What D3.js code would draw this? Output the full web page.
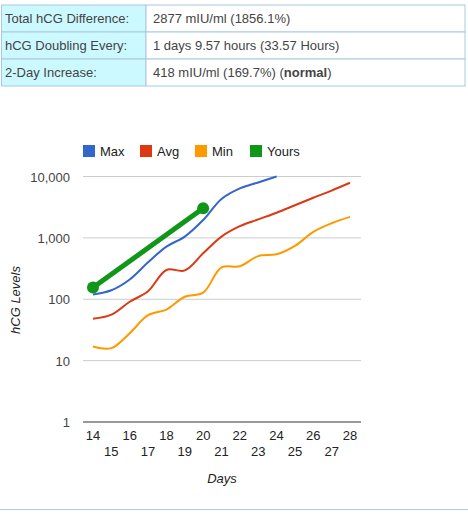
<!DOCTYPE html>
<html>
<head>
<meta charset="utf-8">
<script src="https://cdn.jsdelivr.net/npm/d3@7"></script>
<style>
  body { margin: 0; background: #fff; font-family: "Liberation Sans", Arial, sans-serif; }
</style>
</head>
<body>
<div id="chart"></div>
<script>
// summary table rows
const tableLabels = ["Total hCG Difference:", "hCG Doubling Every:", "2-Day Increase:"];
const tableValues = ["2877 mIU/ml (1856.1%)", "1 days 9.57 hours (33.57 Hours)", "418 mIU/ml (169.7%) "];

// chart data, days 14..28
const days = [14, 15, 16, 17, 18, 19, 20, 21, 22, 23, 24, 25, 26, 27, 28];
const maxValues = [120, 140, 210, 400, 720, 1050, 1950, 4300, 6400, 8000, 10000];
const avgValues = [48, 56, 91, 135, 300, 295, 560, 1050, 1550, 2000, 2570, 3400, 4500, 5900, 7900];
const minValues = [17, 16, 28, 55, 68, 110, 128, 330, 345, 505, 540, 740, 1250, 1730, 2200];
const yoursDays = [14, 20];
const yoursValues = [155, 3032];
const yTicks = [1, 10, 100, 1000, 10000];

const seriesNames = ["Max", "Avg", "Min", "Yours"];
const seriesColors = ["#3366cc", "#dc3912", "#ff9900", "#109618"];

const W = 468, H = 514;
const svg = d3.select("#chart").append("svg")
    .attr("width", W).attr("height", H)
    .style("font-family", '"Liberation Sans", Arial, sans-serif');

// --- table
const rowH = 27, tableTop = 5, tableLeft = 1.5, tableRight = 465, colSplit = 146;
const table = svg.append("g");
tableLabels.forEach((lab, i) => {
    const y = tableTop + i * rowH;
    table.append("rect")
        .attr("x", tableLeft).attr("y", y)
        .attr("width", colSplit - tableLeft).attr("height", rowH)
        .attr("fill", "#ccf9ff").attr("stroke", "#a9c9e0");
    table.append("rect")
        .attr("x", colSplit).attr("y", y)
        .attr("width", tableRight - colSplit).attr("height", rowH)
        .attr("fill", "#fff").attr("stroke", "#a9c9e0");
    table.append("text")
        .attr("x", 5).attr("y", y + 18)
        .attr("font-size", 13).attr("fill", "#444").text(lab);
    const t = table.append("text")
        .attr("x", 153).attr("y", y + 18)
        .attr("font-size", 13).attr("fill", "#444").text(tableValues[i]);
    if (i === 2) {
        t.append("tspan").text("(");
        t.append("tspan").attr("font-weight", "bold").text("normal");
        t.append("tspan").text(")");
    }
});

// --- chart
const plot = {left: 83, right: 361, top: 176.5, bottom: 422};

const x = d3.scaleLinear().domain([14, 28]).range([93, 350]);
const y = d3.scaleLog().domain([1, 10000]).range([plot.bottom, plot.top]);

// gridlines
svg.append("g").selectAll("line")
    .data(yTicks.slice(1))
    .enter().append("line")
        .attr("x1", plot.left).attr("x2", plot.right)
        .attr("y1", d => y(d)).attr("y2", d => y(d))
        .attr("stroke", "#cccccc");

// baseline
svg.append("line")
    .attr("x1", plot.left).attr("x2", plot.right)
    .attr("y1", y(1)).attr("y2", y(1))
    .attr("stroke", "#333").attr("stroke-width", 1);

// y tick labels
svg.append("g").selectAll("text")
    .data(yTicks)
    .enter().append("text")
        .attr("x", 70).attr("y", d => y(d) + 5)
        .attr("text-anchor", "end").attr("font-size", 13).attr("fill", "#444")
        .text(d => d3.format(",")(d));

// x tick labels, two staggered rows
svg.append("g").selectAll("text")
    .data(days)
    .enter().append("text")
        .attr("x", d => x(d))
        .attr("y", (d, i) => i % 2 === 0 ? 440 : 456)
        .attr("text-anchor", "middle").attr("font-size", 13).attr("fill", "#222")
        .text(d => d);

// axis titles
svg.append("text")
    .attr("x", 222).attr("y", 483)
    .attr("text-anchor", "middle").attr("font-size", 13)
    .attr("font-style", "italic").attr("fill", "#222").text("Days");

svg.append("text")
    .attr("transform", `translate(20,300) rotate(-90)`)
    .attr("text-anchor", "middle").attr("font-size", 13)
    .attr("font-style", "italic").attr("fill", "#222").text("hCG Levels");

// lines
const line = d3.line()
    .x(d => x(d[0])).y(d => y(d[1]))
    .curve(d3.curveCatmullRom.alpha(0.5));

const curves = [maxValues, avgValues, minValues];
curves.forEach((vals, i) => {
    svg.append("path")
        .datum(vals.map((v, j) => [days[j], v]))
        .attr("d", line)
        .attr("fill", "none")
        .attr("stroke", seriesColors[i])
        .attr("stroke-width", 2);
});

const yoursData = yoursDays.map((d, j) => [d, yoursValues[j]]);
svg.append("path")
    .datum(yoursData)
    .attr("d", d3.line().x(d => x(d[0])).y(d => y(d[1])))
    .attr("fill", "none")
    .attr("stroke", seriesColors[3])
    .attr("stroke-width", 5);

svg.append("g").selectAll("circle")
    .data(yoursData)
    .enter().append("circle")
        .attr("cx", d => x(d[0])).attr("cy", d => y(d[1]))
        .attr("r", 6).attr("fill", seriesColors[3]);

// legend
const legendX = [83, 140, 195, 250];
const legend = svg.append("g");
legend.selectAll("rect")
    .data(seriesNames)
    .enter().append("rect")
        .attr("x", (d, i) => legendX[i]).attr("y", 145)
        .attr("width", 12).attr("height", 12)
        .attr("fill", (d, i) => seriesColors[i]);
legend.selectAll("text")
    .data(seriesNames)
    .enter().append("text")
        .attr("x", (d, i) => legendX[i] + 17).attr("y", 156)
        .attr("font-size", 13).attr("fill", "#222")
        .text(d => d);

// bottom rule
svg.append("line")
    .attr("x1", 0).attr("x2", W)
    .attr("y1", 509.5).attr("y2", 509.5)
    .attr("stroke", "#a9c9e0").attr("stroke-width", 1);
</script>
</body>
</html>
